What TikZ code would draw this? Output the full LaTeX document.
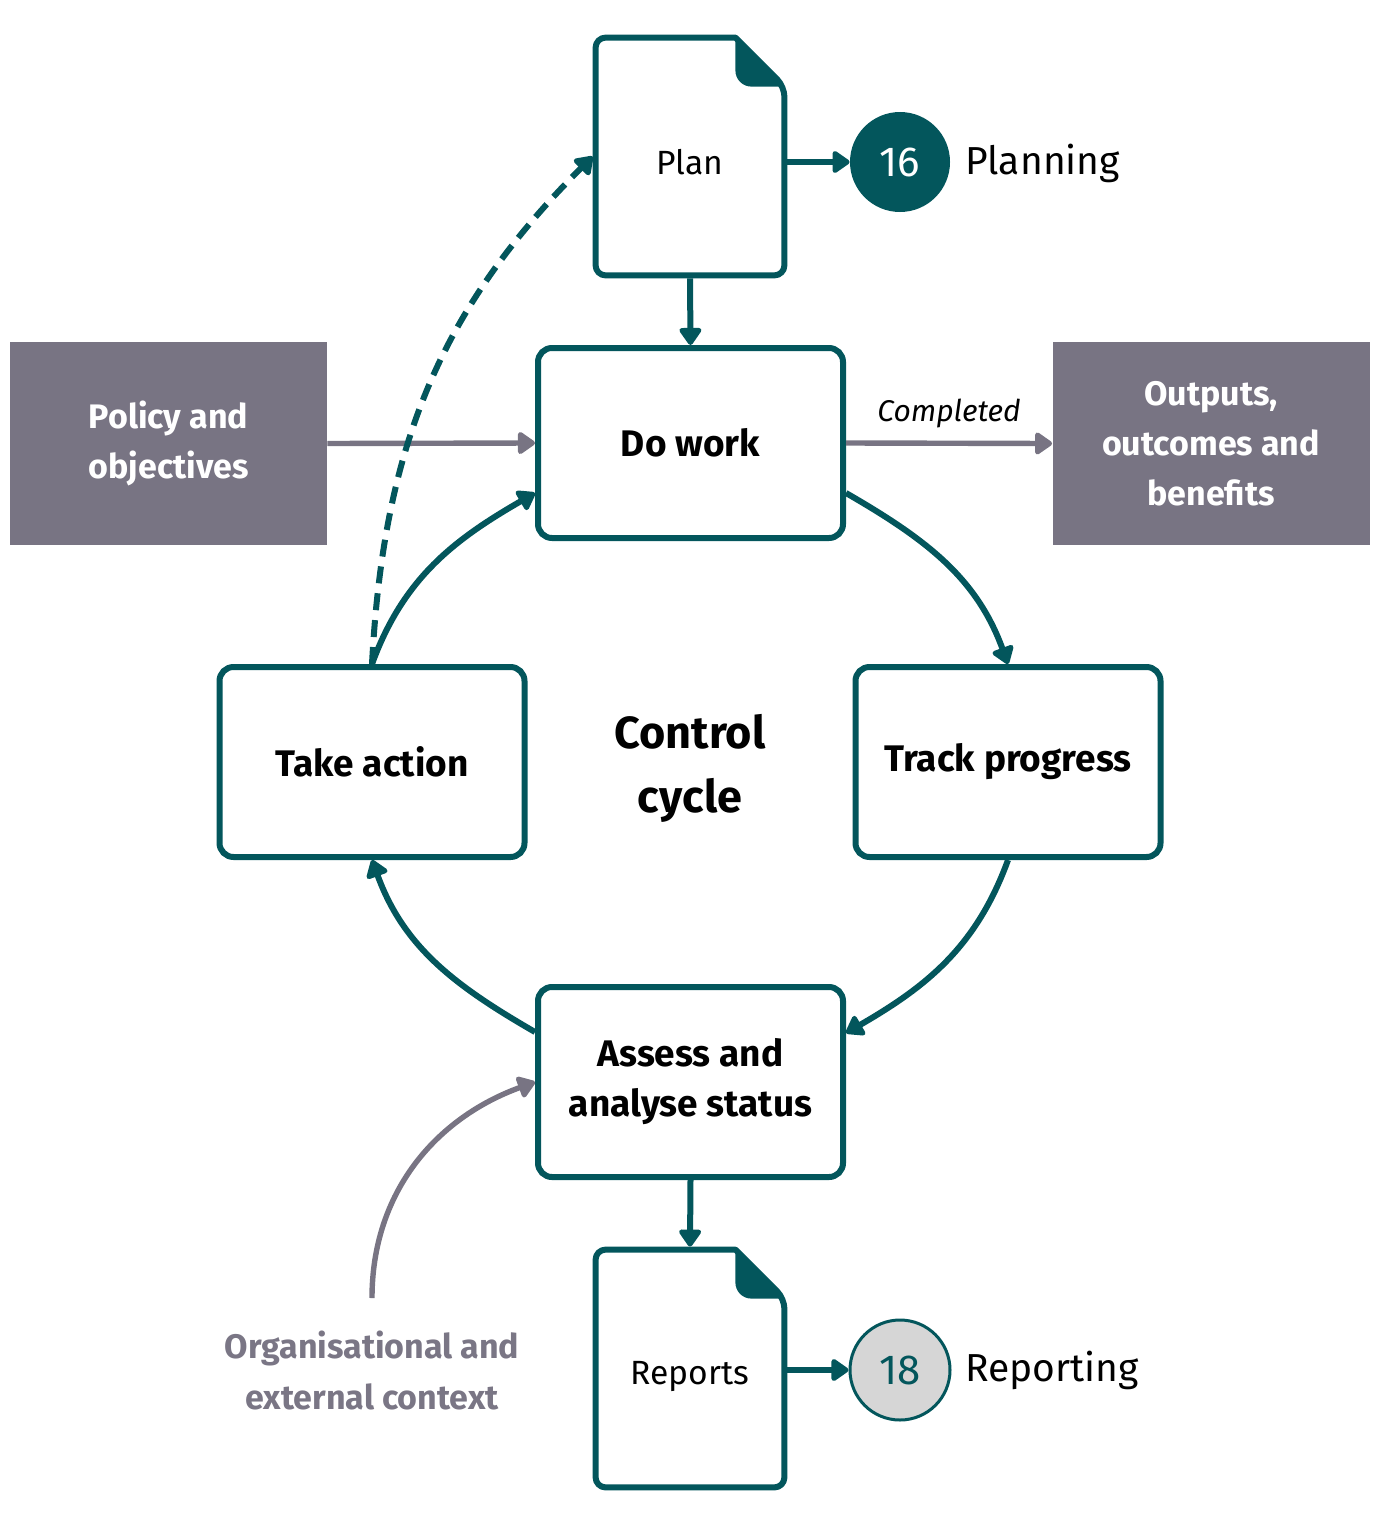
\documentclass[tikz,border=0pt]{standalone}
\usepackage{fontspec}
\setmainfont{Fira Sans}
\usetikzlibrary{arrows.meta}
\definecolor{teal1}{HTML}{03565C}
\definecolor{greybox}{HTML}{787483}
\definecolor{greytext}{HTML}{7A7685}
\definecolor{lightgrey}{HTML}{D6D6D6}
\newcommand\docoutline[1]{%
  \draw[draw=teal1, line width=3pt, line join=round]
    ([shift={(-26pt,-1.5pt)}]#1.north east) [rounded corners=5pt]
    -- ([shift={(1.5pt,-1.5pt)}]#1.north west)
    -- ([shift={(1.5pt,1.5pt)}]#1.south west)
    -- ([shift={(-1.5pt,1.5pt)}]#1.south east)
    -- ([shift={(-1.5pt,-26pt)}]#1.north east) [sharp corners] -- cycle;
  \fill[teal1] ([shift={(-26pt,-1.5pt)}]#1.north east)
    -- ([shift={(-26pt,-18pt)}]#1.north east)
    arc[start angle=180, end angle=270, radius=8pt]
    -- ([shift={(-1.5pt,-26pt)}]#1.north east) -- cycle;
}
\begin{document}
\begin{tikzpicture}[x=0.5pt,y=0.5pt,
  cyclebox/.style={draw=teal1, line width=3pt, rounded corners=7pt, fill=white,
    minimum width=152.5pt, minimum height=95pt, align=center, inner sep=0pt,
    font=\bfseries\fontsize{18.5}{25}\selectfont},
  docnode/.style={minimum width=97pt, minimum height=121.5pt, inner sep=0pt,
    font=\fontsize{16.8}{20}\selectfont},
  greyblock/.style={fill=greybox, text=white, minimum width=158.5pt, minimum height=101.5pt,
    align=center, inner sep=0pt, font=\bfseries\fontsize{17}{25}\selectfont},
  tealarrow/.style={draw=teal1, line width=3pt, -{Triangle[length=9.5pt,width=12.5pt,round]}},
  greyarrow/.style={draw=greybox, line width=2.7pt, -{Triangle[length=9.5pt,width=12.5pt,round]}},
  numcircle/.style={circle, minimum size=50pt, inner sep=0pt, font=\fontsize{21}{24}\selectfont},
  sidelabel/.style={anchor=west, inner sep=0pt, font=\fontsize{19.5}{24}\selectfont}
]
\useasboundingbox (0,0) rectangle (1380,-1536);
% nodes
\node[docnode] (plan) at (690,-156.5) {\raisebox{-9pt}[0pt][0pt]{Plan}};
\node[docnode] (reports) at (690,-1368.5) {\raisebox{-8pt}[0pt][0pt]{Reports}};
\node[cyclebox] (dowork) at (690.5,-443) {Do work};
\node[cyclebox] (track) at (1008,-762) {Track progress};
\node[cyclebox] (take) at (372,-762) {Take action};
\node[cyclebox] (assess) at (690.5,-1082) {Assess and\\analyse status};
\node[greyblock] (policy) at (168.5,-443.5) {Policy and\\objectives};
\node[greyblock] (outputs) at (1211,-443.5) {Outputs,\\outcomes and\\benefits};
\node[numcircle, fill=teal1, text=white] (c16) at (900,-162) {16};
\node[numcircle, fill=lightgrey, draw=teal1, line width=1.5pt, text=teal1] (c18) at (900,-1370) {18};
\node[sidelabel] (planning) at (965,-163) {Planning};
\node[sidelabel] (reporting) at (965,-1370) {Reporting};
\node[align=center, font=\bfseries\fontsize{22.5}{32}\selectfont] (control) at (690,-768) {Control\\cycle};
\node[align=center, text=greytext, font=\bfseries\fontsize{17}{25.5}\selectfont] (context) at (372,-1370) {Organisational and\\external context};
\coordinate (ctxstart) at (372,-1298);
\docoutline{plan}
\docoutline{reports}
% connectors
\draw[tealarrow] (plan.south) -- (dowork.north);
\draw[tealarrow] (assess.south) -- (reports.north);
\draw[tealarrow] (plan.east |- c16.west) -- (c16.west);
\draw[tealarrow] (reports.east |- c18.west) -- (c18.west);
\draw[greyarrow] (policy.east) -- (dowork.west);
\draw[greyarrow] (dowork.east) -- node[above=3pt, text=black, font=\itshape\fontsize{15}{18}\selectfont] (completed) {Completed} (outputs.west);
\draw[tealarrow] ([yshift=-25pt]dowork.east) to[out=-30,in=110] (track.north);
\draw[tealarrow] (track.south) to[out=-110,in=30] ([yshift=24.5pt]assess.east);
\draw[tealarrow] ([yshift=25pt]assess.west) to[out=150,in=-70] (take.south);
\draw[tealarrow] (take.north) to[out=70,in=210] ([yshift=-25pt]dowork.west);
\draw[tealarrow, dash pattern=on 8.5pt off 5pt] (take.north) to[out=87,in=225] (plan.west);
\draw[greyarrow] (ctxstart) to[out=90,in=200] (assess.west);
\end{tikzpicture}
\end{document}
